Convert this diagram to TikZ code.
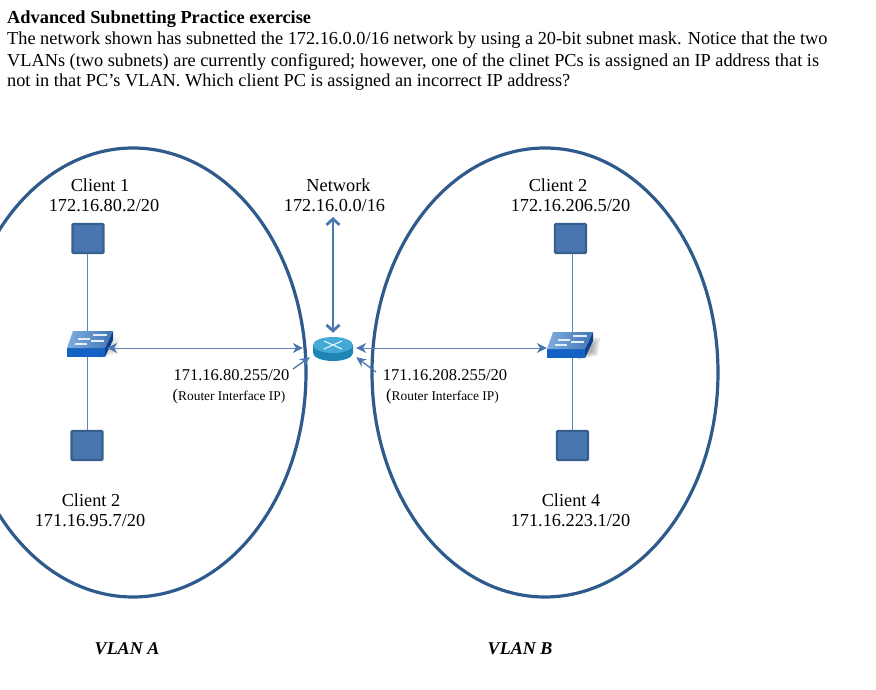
\documentclass[tikz,border=0pt]{standalone}
\usepackage{fontspec}
\setmainfont{Liberation Serif}
\usetikzlibrary{arrows.meta}

\definecolor{vlanline}{HTML}{2F5A8C}
\definecolor{linkline}{HTML}{5F86BE}
\definecolor{arrowblue}{HTML}{4A77AE}
\definecolor{clientfill}{HTML}{4A76B0}
\definecolor{clientedge}{HTML}{375F8E}
\definecolor{swtop}{HTML}{4A8AD2}
\definecolor{swfront}{HTML}{1462C4}
\definecolor{swside}{HTML}{0C3F8C}
\definecolor{rttop}{HTML}{45A9D6}
\definecolor{rtside}{HTML}{1E85B4}

% switch icon, centre of the box given in pixels
\newcommand{\switchicon}[3]{
  \begin{scope}[shift={(#1,#2)}]
    \foreach \g in {0,2,4,6}
      \fill[black,opacity=#3] (15-\g/2,-9+\g) -- (30-\g,-7+\g) -- (28-\g,10-\g/2) -- (8,15-\g/2) -- cycle;
    \fill[swfront] (-23,4) -- (15,4) -- (15,13) -- (-23,13) -- cycle;
    \fill[swside] (15,4) -- (23,-13) -- (23,-4) -- (15,13) -- cycle;
    \shade[left color=swtop!70!white,right color=swtop!85!black] (-17,-13) -- (23,-13) -- (15,4) -- (-23,4) -- cycle;
    \draw[white!85!swtop,line width=1.2pt] (-12,-5) -- (0,-5) (-15,0) -- (-3,0) (3,-9) -- (17,-9) (1,-3) -- (14,-3);
  \end{scope}
}
% router icon
\newcommand{\routericon}[2]{
  \begin{scope}[shift={(#1,#2)}]
    \fill[rtside] (-20,-3) -- (-20,5) arc[start angle=180,end angle=0,x radius=20,y radius=8] -- (20,-3) -- cycle;
    \fill[rttop] (0,-3) ellipse[x radius=20,y radius=8];
    \draw[white!80!rttop,line width=1.2pt] (-9,-7) -- (9,1) (-9,1) -- (9,-7);
  \end{scope}
}

\begin{document}
\begin{tikzpicture}[x=1pt,y=-1pt,
  every node/.style={font=\fontsize{18.3}{20}\selectfont},
  client node/.style={rectangle,draw=clientedge,fill=clientfill,line width=2.4pt,rounded corners=1pt,minimum width=31pt,minimum height=29pt,inner sep=0pt},
  hidden node/.style={rectangle,inner sep=0pt,minimum height=18pt},
  text line/.style={anchor=base west,inner sep=0pt},
  link/.style={draw=linkline,line width=1pt},
  tip link/.style={link,{Stealth[length=10pt,width=10pt,color=arrowblue]}-{Stealth[length=10pt,width=10pt,color=arrowblue]}},
  vlan/.style={draw=vlanline,line width=3.2pt},
  ip label/.style={font=\fontsize{16.5}{18}\selectfont},
  vlan label/.style={font=\fontsize{18}{20}\selectfont\bfseries\itshape},
  pointer/.style={draw=arrowblue,line width=1.3pt,-{Stealth[length=10pt,width=9pt]}}]

  \useasboundingbox (0,0) rectangle (876,690);

  \node[text line,font=\fontsize{18.35}{20}\selectfont\bfseries] (title) at (7,24) {Advanced Subnetting Practice exercise};
  \node[text line] (lineone) at (7,45) {The network shown has subnetted the 172.16.0.0/16 network by using a 20-bit subnet mask. Notice that the two};
  \node[text line] (linetwo) at (7,67) {VLANs (two subnets) are currently configured; however, one of the clinet PCs is assigned an IP address that is};
  \node[text line] (linethree) at (7,87) {not in that PC’s VLAN. Which client PC is assigned an incorrect IP address?};

  \draw[vlan] (133,372.5) ellipse[x radius=173,y radius=224.5];
  \draw[vlan] (545,372.5) ellipse[x radius=173,y radius=224.5];

  \node[client node] (c1) at (88,238.5) {};
  \node[client node] (c2) at (87,445.5) {};
  \node[client node] (c3) at (570.5,238.5) {};
  \node[client node] (c4) at (572.5,445.5) {};

  \node[hidden node,minimum width=39pt] (swa) at (87.5,348) {};
  \node[hidden node,minimum width=50pt] (swb) at (572,348) {};
  \node[hidden node,minimum width=46pt] (rt) at (333,348) {};

  \coordinate (netend) at (333,217);
  \coordinate (ptra) at (293,369);
  \coordinate (ptrb) at (376,372);

  \draw[link] (c1.south -| swa) -- (swa);
  \draw[link] (swa) -- (c2.north -| swa);
  \draw[link] (c3.south -| swb) -- (swb);
  \draw[link] (swb) -- (c4.north -| swb);

  \switchicon{90}{344}{0.04}
  \switchicon{570}{345}{0.09}
  \routericon{333}{348}

  \draw[tip link,shorten >=7pt] (swa) -- (rt);
  \draw[tip link] (rt) -- (swb);
  \draw[draw=arrowblue,line width=2.8pt,{Straight Barb[length=6pt,width=13pt]}-{Straight Barb[length=6pt,width=13pt]},shorten >=6pt] (netend) -- (rt.north);
  \draw[pointer] (ptra) -- (rt.south west);
  \draw[pointer] (ptrb) -- (rt.south east);

  \node (c1name) at (100,185) {Client 1};
  \node (c1addr) at (104,206) {172.16.80.2/20};
  \node (netname) at (338.5,185) {Network};
  \node (netaddr) at (334.5,206) {172.16.0.0/16};
  \node (c3name) at (558,185) {Client 2};
  \node (c3addr) at (570.5,206) {172.16.206.5/20};
  \node (c2name) at (91,500) {Client 2};
  \node (c2addr) at (90,521) {171.16.95.7/20};
  \node (c4name) at (571,500) {Client 4};
  \node (c4addr) at (570.5,521) {171.16.223.1/20};

  \node[ip label] (rta) at (231.5,375) {171.16.80.255/20};
  \node[ip label] (rtanote) at (229,397) {(\fontsize{13.4}{16}\selectfont Router Interface IP)};
  \node[ip label] (rtb) at (445,375.5) {171.16.208.255/20};
  \node[ip label] (rtbnote) at (442.5,397) {(\fontsize{13.4}{16}\selectfont Router Interface IP)};

  \node[vlan label] (vlana) at (127,648.5) {VLAN A};
  \node[vlan label] (vlanb) at (520,648.5) {VLAN B};
\end{tikzpicture}
\end{document}
